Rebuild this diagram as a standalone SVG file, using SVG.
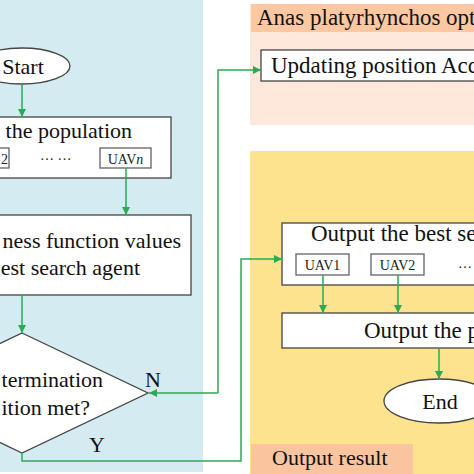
<svg xmlns="http://www.w3.org/2000/svg" width="474" height="474" viewBox="0 0 474 474">
<defs>
<marker id="ah" viewBox="0 0 10 10" refX="10" refY="5" markerWidth="8" markerHeight="8" markerUnits="userSpaceOnUse" orient="auto">
<path d="M0,0 L10,5 L0,10 z" fill="#2aaa55"/>
</marker>
<style>
.t{font-family:"Liberation Serif","Times New Roman",serif;font-size:22px;fill:#111}
.r{font-size:23px}
.s{font-family:"Liberation Serif","Times New Roman",serif;font-size:14px;fill:#222}
.box{fill:#fff;stroke:#444;stroke-width:1.3}
.sb{fill:#fff;stroke:#555;stroke-width:1.2}
.c{fill:none;stroke:#2aaa55;stroke-width:1.5;marker-end:url(#ah)}
</style>
</defs>
<rect width="474" height="474" fill="#fff"/>
<g id="panels">
<rect x="0" y="0" width="203" height="472" fill="#d4ecf1"/>
<rect x="250" y="4" width="224" height="121" fill="#fde8db"/>
<rect x="251" y="4" width="223" height="28" fill="#fbc8a2"/>
<text class="t r" x="257" y="25">Anas platyrhynchos opt</text>
<rect x="250" y="151" width="224" height="323" fill="#fee38e"/>
<rect x="251" y="444" width="162" height="30" fill="#fac49e"/>
<text class="t" x="272" y="465">Output result</text>
</g>
<g id="start">
<ellipse cx="22" cy="66" rx="48" ry="18" class="box"/>
<text class="t" x="23" y="74" text-anchor="middle">Start</text>
</g>
<g id="population">
<rect x="-10" y="117" width="181" height="61" class="box"/>
<text class="t" x="132" y="138" text-anchor="end">the population</text>
<rect x="-40" y="148" width="49" height="20" class="sb"/>
<text class="s" x="8" y="164" text-anchor="end">2</text>
<text class="s" x="40" y="160">… …</text>
<rect x="100" y="148" width="51" height="20" class="sb"/>
<text class="s" x="125.5" y="164" text-anchor="middle">UAV<tspan font-style="italic">n</tspan></text>
</g>
<g id="fitness">
<rect x="-10" y="215" width="201" height="80" class="box"/>
<text class="t" x="181" y="248" text-anchor="end">ness function values</text>
<text class="t" x="140" y="275" text-anchor="end">est search agent</text>
</g>
<g id="decision">
<polygon points="22,333 148,393 22,453 -104,393" class="box"/>
<text class="t" x="103" y="387" text-anchor="end">termination</text>
<text class="t" x="90" y="415" text-anchor="end">ition met?</text>
<text class="t" x="153" y="387" text-anchor="middle">N</text>
<text class="t" x="97" y="452" text-anchor="middle">Y</text>
</g>
<g id="updating">
<rect x="261" y="50" width="230" height="31" class="box"/>
<text class="t r" x="271" y="73">Updating position Acc</text>
</g>
<g id="bestsearch">
<rect x="282" y="223" width="210" height="62" class="box"/>
<text class="t r" x="311" y="241">Output the best se</text>
<rect x="296" y="254" width="53" height="21" class="sb"/>
<text class="s" x="322.5" y="270" text-anchor="middle">UAV1</text>
<rect x="371" y="254" width="53" height="21" class="sb"/>
<text class="s" x="397.5" y="270" text-anchor="middle">UAV2</text>
<text class="s" x="458" y="268">…</text>
</g>
<g id="outputp">
<rect x="282" y="313" width="210" height="35" class="box"/>
<text class="t r" x="364" y="338">Output the p</text>
</g>
<g id="end">
<ellipse cx="439" cy="401" rx="55" ry="22" class="box"/>
<text class="t" x="440" y="409" text-anchor="middle">End</text>
</g>
<g id="connectors">
<path class="c" d="M22,84 V117"/>
<path class="c" d="M126,168 V215"/>
<path class="c" d="M22,295 V333"/>
<path class="c" d="M218,393 H149"/>
<path class="c" d="M218,393 V70 H261"/>
<path class="c" d="M22,453 V461 H241 V259 H282"/>
<path class="c" d="M323,275 V313"/>
<path class="c" d="M398,275 V313"/>
<path class="c" d="M439,348 V379"/>
</g>
</svg>
